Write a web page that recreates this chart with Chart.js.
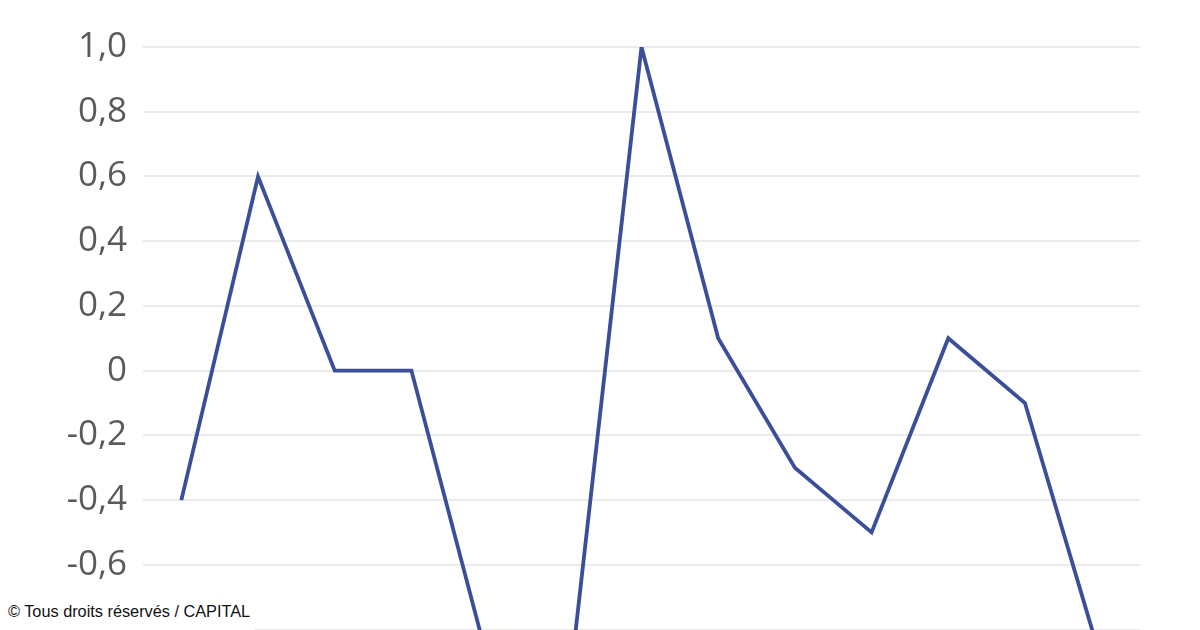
<!DOCTYPE html>
<html>
<head>
<meta charset="utf-8">
<script src="https://cdn.jsdelivr.net/npm/chart.js@4"></script>
<style>
    html, body { margin: 0; padding: 0; background: #fff; overflow: hidden; }
    #wrap { position: relative; width: 1200px; height: 630px; overflow: hidden; }
    #box { position: absolute; left: 0; top: 0; width: 1200px; height: 796px; }
    #credit {
        position: absolute; left: 0; top: 592px; width: 255px; height: 38px;
        background: #fff; font-family: "Liberation Sans", Arial, sans-serif;
        font-size: 16.3px; color: #111; line-height: 38px; padding-left: 8px; box-sizing: border-box;
        white-space: nowrap;
    }
</style>
</head>
<body>
<div id="wrap">
    <div id="box"><canvas id="chart"></canvas></div>
    <div id="credit">© Tous droits réservés / CAPITAL</div>
</div>
<script>
const periods = ["1", "2", "3", "4", "5", "6", "7", "8", "9", "10", "11", "12", "13"];
const values = [-0.4, 0.6, 0, 0, -0.9, -1.1, 1.0, 0.1, -0.3, -0.5, 0.1, -0.1, -0.9];
const yMin = -1.2;
const yMax = 1.0;
const yStep = 0.2;

function formatTick(v) {
    if (Math.abs(v) < 1e-9) return "0";
    return v.toFixed(1).replace(".", ",");
}

const ctx = document.getElementById("chart").getContext("2d");
new Chart(ctx, {
    type: "line",
    data: {
        labels: periods,
        datasets: [{
            data: values,
            borderColor: "#3a4f98",
            borderWidth: 3.8,
            pointRadius: 0,
            tension: 0,
            fill: false,
        }],
    },
    options: {
        responsive: true,
        maintainAspectRatio: false,
        animation: false,
        layout: { padding: { top: 47, right: 60, bottom: 23.5, left: 0 } },
        plugins: { legend: { display: false }, tooltip: { enabled: false } },
        scales: {
            x: { display: false, offset: true },
            y: {
                min: yMin,
                max: yMax,
                border: { display: false },
                grid: { color: "#ebebeb", lineWidth: 2, drawTicks: false },
                ticks: {
                    stepSize: yStep,
                    padding: 16,
                    color: "#5a5a5a",
                    font: { family: "'Open Sans', sans-serif", size: 35 },
                    callback: value => formatTick(value),
                },
                afterFit: scale => { scale.width = 143; },
            },
        },
    },
});
</script>
</body>
</html>
